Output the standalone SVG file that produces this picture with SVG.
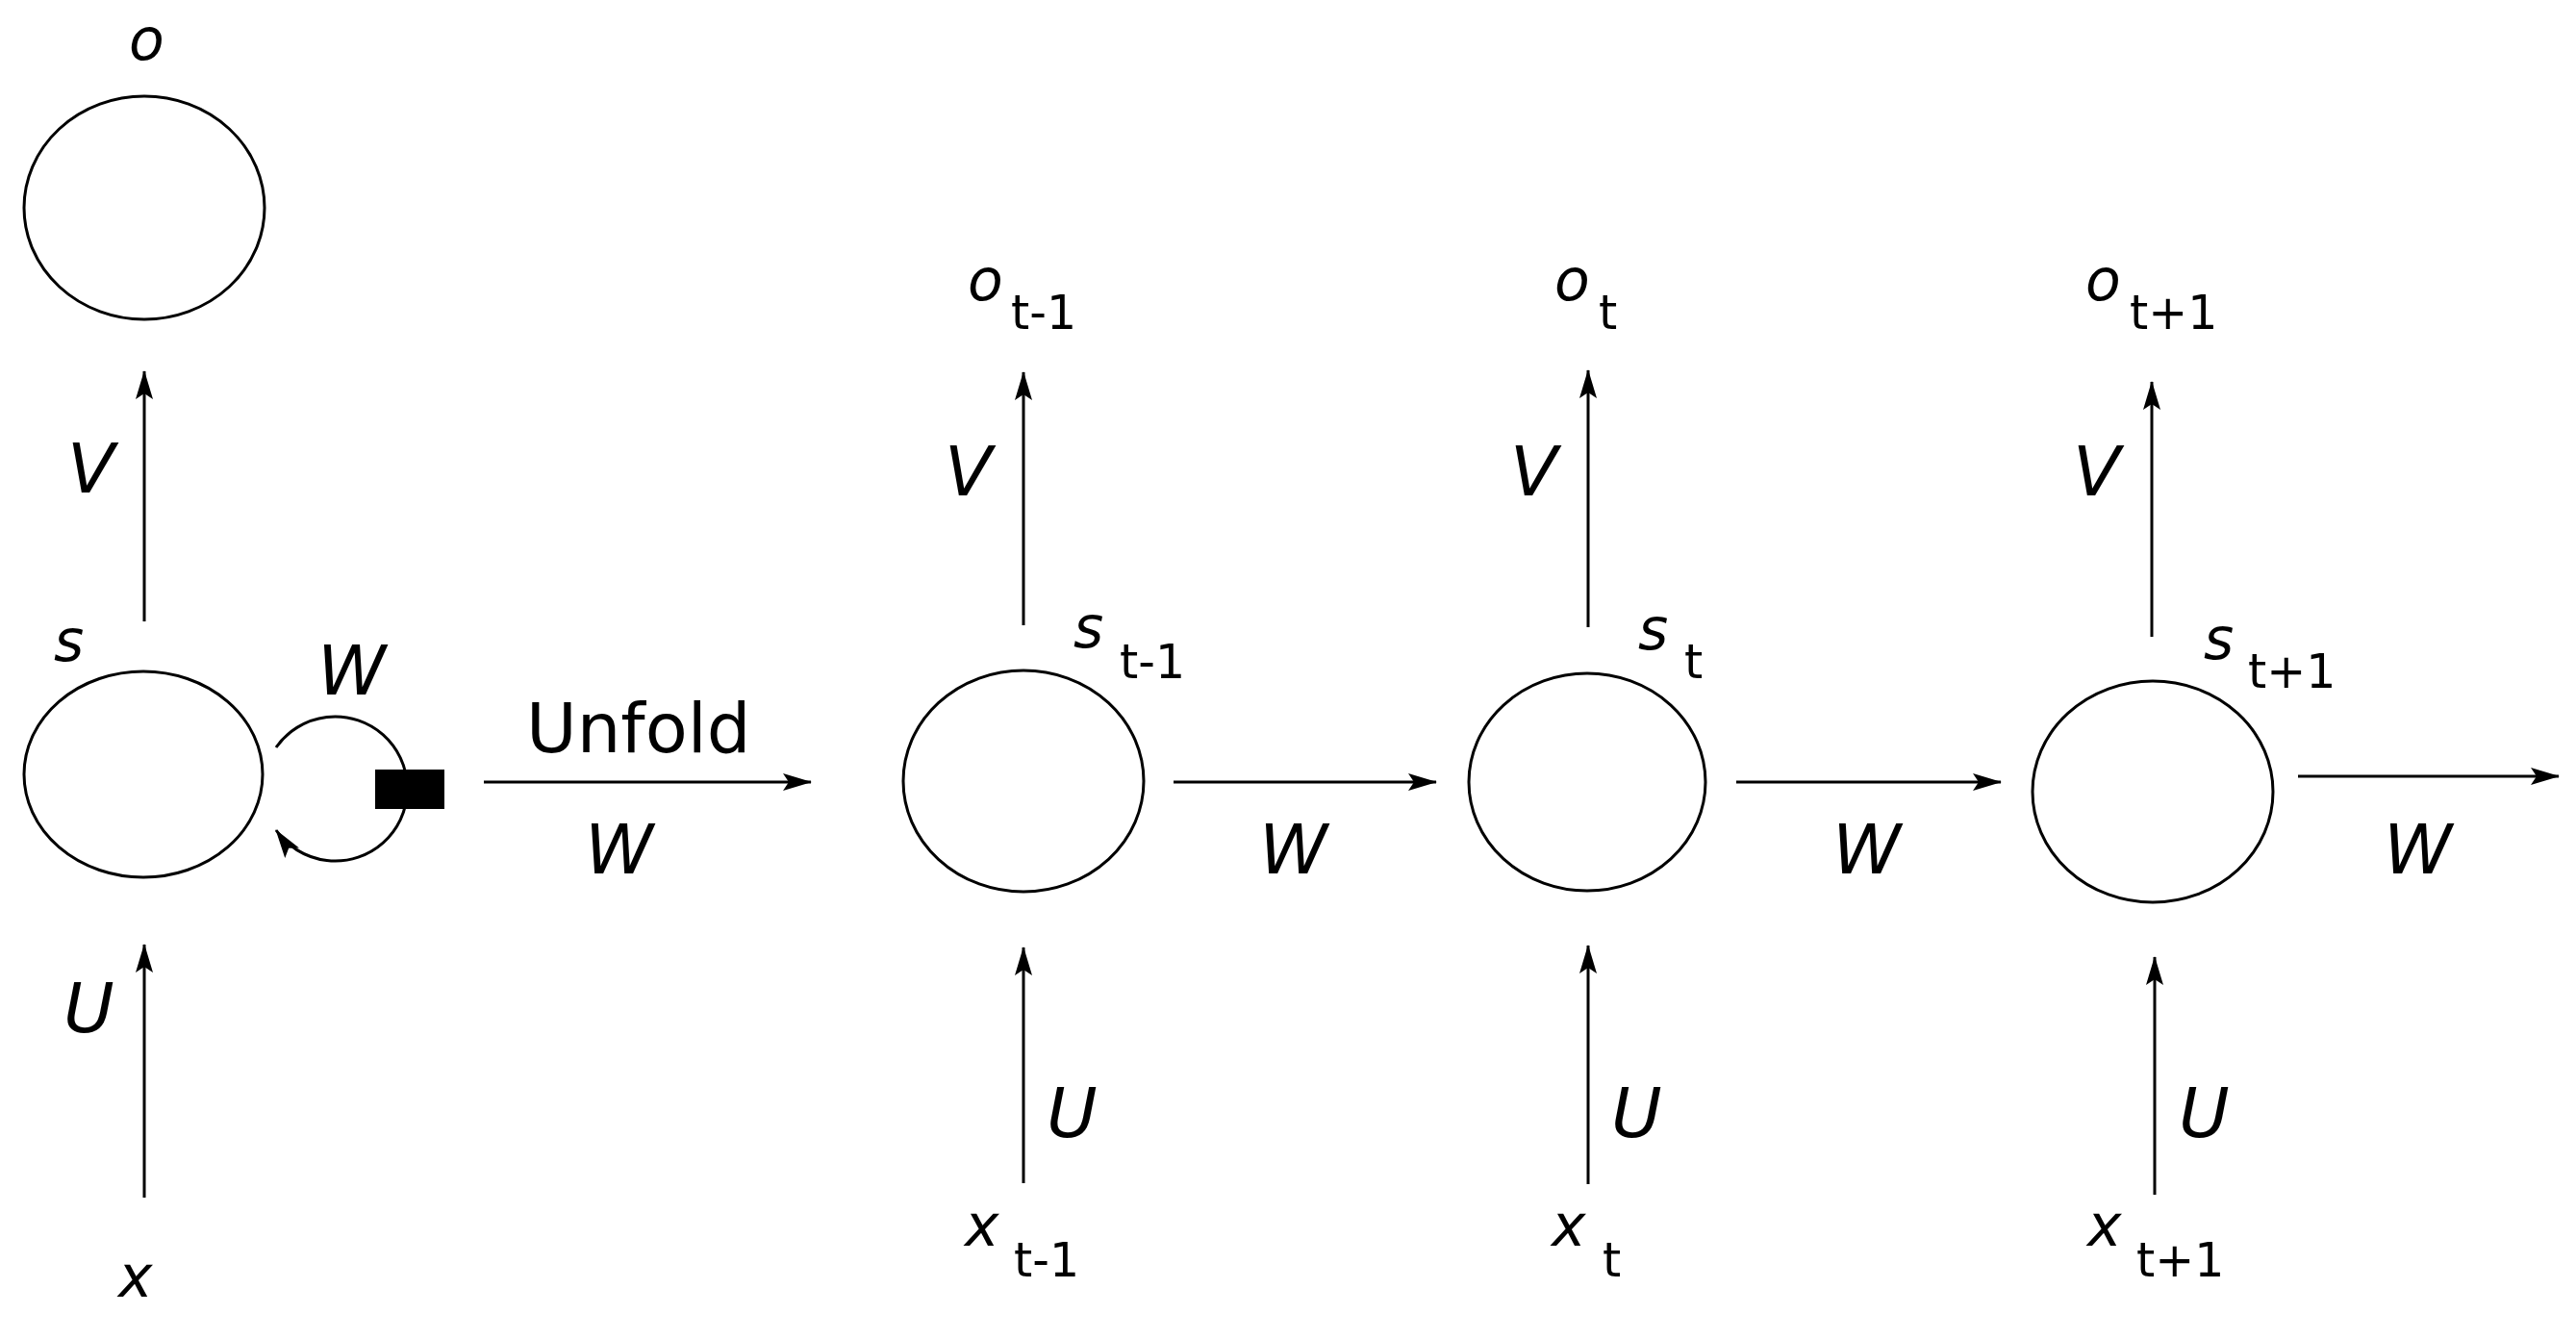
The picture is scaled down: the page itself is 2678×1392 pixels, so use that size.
<svg xmlns="http://www.w3.org/2000/svg" width="2678" height="1392" viewBox="0 0 2678 1392">
<style>
.node{fill:#fff;stroke:#000;stroke-width:3}
.edge{stroke:#000;stroke-width:3;fill:none}
text{font-family:"DejaVu Sans","Liberation Sans",sans-serif;fill:#000}
.cap{font-size:72px;font-style:italic}
.low{font-size:60px;font-style:italic}
.sub{font-size:49px}
.plain{font-size:72px}
</style>
<defs>
<marker id="ah" viewBox="0 0 30 18" markerWidth="30" markerHeight="18" refX="29" refY="9" orient="auto" markerUnits="userSpaceOnUse">
<path d="M0,0 L30,9 L0,18 L6,9 z" fill="#000"/>
</marker>
</defs>
<rect width="2678" height="1392" fill="#fff"/>

<g id="connectors">
<line class="edge" x1="150" y1="646" x2="150" y2="386" marker-end="url(#ah)"/>
<line class="edge" x1="150" y1="1245" x2="150" y2="982" marker-end="url(#ah)"/>
<path class="edge" d="M287 777 A75 75 0 1 1 287 863" marker-end="url(#ah)"/>
<line class="edge" x1="503" y1="813" x2="843" y2="813" marker-end="url(#ah)"/>
<line class="edge" x1="1064" y1="650" x2="1064" y2="387" marker-end="url(#ah)"/>
<line class="edge" x1="1064" y1="1230" x2="1064" y2="985" marker-end="url(#ah)"/>
<line class="edge" x1="1220" y1="813" x2="1493" y2="813" marker-end="url(#ah)"/>
<line class="edge" x1="1651" y1="652" x2="1651" y2="385" marker-end="url(#ah)"/>
<line class="edge" x1="1651" y1="1231" x2="1651" y2="983" marker-end="url(#ah)"/>
<line class="edge" x1="1805" y1="813" x2="2080" y2="813" marker-end="url(#ah)"/>
<line class="edge" x1="2237" y1="662" x2="2237" y2="397" marker-end="url(#ah)"/>
<line class="edge" x1="2240" y1="1242" x2="2240" y2="995" marker-end="url(#ah)"/>
<line class="edge" x1="2389" y1="807" x2="2660" y2="807" marker-end="url(#ah)"/>
</g>

<g id="node-o">
<ellipse class="node" cx="150" cy="216" rx="125" ry="116"/>
<text class="low" x="134" y="62">o</text>
</g>
<g id="node-s">
<ellipse class="node" cx="149" cy="805" rx="124" ry="107"/>
<text class="low" x="56" y="687">s</text>
</g>
<g id="loop-gate">
<rect x="390" y="800" width="72" height="41" fill="#000"/>
</g>
<g id="node-x">
<text class="low" x="123" y="1348">x</text>
</g>

<g id="node-o-t-1"><text class="low" x="1006" y="312">o</text><text class="sub" x="1051" y="342">t-1</text></g>
<g id="node-s-t-1">
<ellipse class="node" cx="1064" cy="812" rx="125" ry="115"/>
<text class="low" x="1116" y="673">s</text><text class="sub" x="1164" y="705">t-1</text>
</g>
<g id="node-x-t-1"><text class="low" x="1003" y="1295">x</text><text class="sub" x="1054" y="1327">t-1</text></g>

<g id="node-o-t"><text class="low" x="1616" y="312">o</text><text class="sub" x="1662" y="342">t</text></g>
<g id="node-s-t">
<ellipse class="node" cx="1650" cy="813" rx="123" ry="113"/>
<text class="low" x="1703" y="675">s</text><text class="sub" x="1751" y="705">t</text>
</g>
<g id="node-x-t"><text class="low" x="1613" y="1295">x</text><text class="sub" x="1666" y="1327">t</text></g>

<g id="node-o-t+1"><text class="low" x="2168" y="312">o</text><text class="sub" x="2214" y="342">t+1</text></g>
<g id="node-s-t+1">
<ellipse class="node" cx="2238" cy="823" rx="125" ry="115"/>
<text class="low" x="2291" y="685">s</text><text class="sub" x="2337" y="715">t+1</text>
</g>
<g id="node-x-t+1"><text class="low" x="2170" y="1295">x</text><text class="sub" x="2221" y="1327">t+1</text></g>

<g id="labels">
<text class="cap" x="70" y="512">V</text>
<text class="cap" x="330" y="722">W</text>
<text class="cap" x="66" y="1073">U</text>
<text class="plain" x="547" y="782">Unfold</text>
<text class="cap" x="608" y="908">W</text>
<text class="cap" x="982" y="515">V</text>
<text class="cap" x="1309" y="908">W</text>
<text class="cap" x="1088" y="1182">U</text>
<text class="cap" x="1570" y="515">V</text>
<text class="cap" x="1905" y="908">W</text>
<text class="cap" x="1675" y="1182">U</text>
<text class="cap" x="2155" y="515">V</text>
<text class="cap" x="2478" y="908">W</text>
<text class="cap" x="2265" y="1182">U</text>
</g>
</svg>
